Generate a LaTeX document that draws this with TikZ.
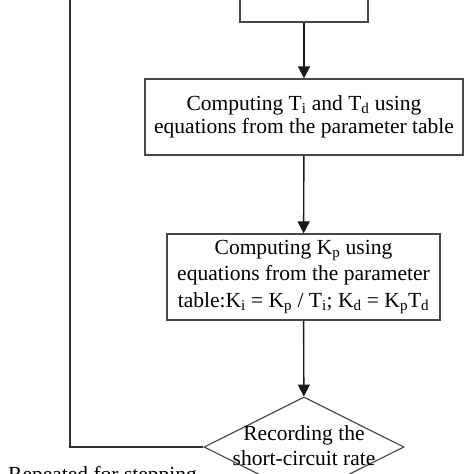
\documentclass[tikz,border=0pt]{standalone}
\usepackage{fontspec}
\setmainfont{Liberation Serif}
\usetikzlibrary{arrows.meta,shapes.geometric}
\begin{document}
\begin{tikzpicture}[x=1pt,y=-1pt,
  box/.style={draw=black!72, line width=1.2pt, inner sep=0pt, align=center,
    font=\fontsize{21.5}{23}\selectfont},
  flow/.style={draw=black!90, line width=1.4pt, -{Triangle[width=12pt,length=12pt]}},
  back/.style={draw=black!82, line width=2pt},
  lbl/.style={align=center, inner sep=0pt, font=\fontsize{21.5}{25}\selectfont}]
\useasboundingbox (0,0) rectangle (474,474);
\node[box, minimum width=128, minimum height=70] (top) at (304,-13) {};
\node[box, minimum width=318, minimum height=76] (ti) at (304,117)
  {Computing T\textsubscript{i} and T\textsubscript{d} using\\equations from the parameter table};
\node[box, minimum width=273, minimum height=86, font=\fontsize{21.5}{26.5}\selectfont] (kp) at (303.5,277)
  {Computing K\textsubscript{p} using\\equations from the parameter\\table:K\textsubscript{i} = K\textsubscript{p} / T\textsubscript{i}; K\textsubscript{d} = K\textsubscript{p}T\textsubscript{d}};
\node[draw=black!75, line width=1.1pt, diamond, minimum width=200, minimum height=100, inner sep=0pt] (dec) at (304,447) {};
\node[lbl] (dectext) at (304,446) {Recording the\\short-circuit rate};
\node[lbl, anchor=base west] (rep) at (8,481) {Repeated for stepping};
\coordinate (lt) at (70,-10);
\draw[flow] (top) -- (ti);
\draw[flow] (ti) -- (kp);
\draw[flow] (kp) -- (dec);
\draw[back] (dec.west) -| (lt);
\end{tikzpicture}
\end{document}
